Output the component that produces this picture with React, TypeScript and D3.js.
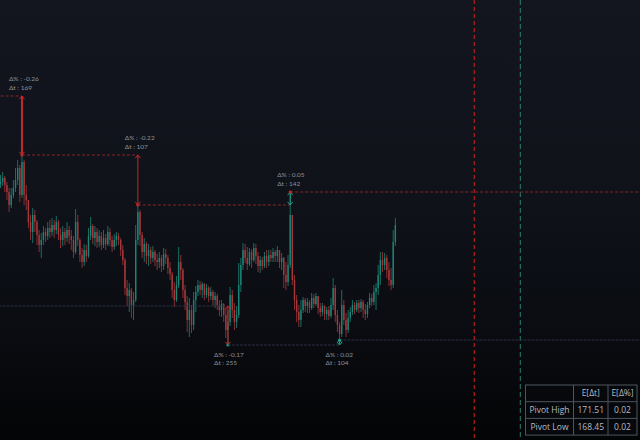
import React from "react";
import * as d3 from "d3";

// ---- Data (prices; bar time unit = 1 source bar, candles every 2 bars)
const closes = [226.68,226.72,226.65,226.58,226.45,226.55,226.62,226.70,226.82,226.55,226.88,226.55,226.50,226.28,226.18,226.35,226.28,226.15,226.05,226.10,226.18,226.14,226.22,226.18,226.25,226.20,226.28,226.15,226.10,226.18,226.12,226.20,226.14,226.10,225.98,226.28,226.10,225.95,225.88,226.00,225.94,226.14,226.24,226.12,226.18,226.08,226.14,226.05,226.12,226.06,226.18,226.10,226.03,226.10,226.14,226.10,226.00,225.90,225.62,225.54,225.60,225.45,225.50,226.10,226.38,226.15,225.98,226.06,225.94,226.00,225.92,225.98,225.90,225.88,225.92,225.84,225.96,225.92,225.82,225.76,225.60,225.50,225.65,225.88,225.80,225.60,225.48,225.30,225.40,225.25,225.50,225.58,225.65,225.60,225.66,225.55,225.62,225.54,225.58,225.50,225.54,225.45,225.40,225.46,225.35,225.20,225.28,225.55,225.40,225.28,225.35,225.65,225.85,226.00,225.92,225.86,225.98,225.90,226.02,225.94,225.84,225.90,225.84,225.94,225.88,225.95,225.92,225.98,225.94,226.00,225.88,225.92,225.75,225.68,225.85,226.35,225.70,225.50,225.38,225.30,225.40,225.50,225.44,225.48,225.42,225.52,225.46,225.54,225.42,225.38,225.44,225.36,225.40,225.34,225.45,225.62,225.35,225.25,225.16,225.45,225.30,225.20,225.32,225.38,225.45,225.40,225.47,225.42,225.48,225.40,225.36,225.45,225.52,225.48,225.58,225.62,225.75,225.90,225.85,225.92,225.80,225.70,225.65,226.08,226.25];
const highs = [226.75,226.78,226.74,226.68,226.62,226.62,226.70,226.82,226.90,226.85,226.95,226.90,226.65,226.50,226.35,226.42,226.40,226.30,226.20,226.17,226.24,226.22,226.28,226.30,226.32,226.30,226.34,226.30,226.22,226.24,226.22,226.28,226.24,226.20,226.14,226.41,226.35,226.12,226.02,226.06,226.05,226.22,226.33,226.26,226.24,226.22,226.20,226.18,226.20,226.16,226.24,226.22,226.14,226.16,226.18,226.17,226.12,226.05,225.92,225.70,225.67,225.62,225.58,226.25,226.45,226.40,226.18,226.12,226.08,226.06,226.03,226.04,226.00,225.96,225.98,225.95,226.02,226.01,225.95,225.88,225.78,225.68,225.74,226.03,225.95,225.82,225.65,225.54,225.52,225.45,225.58,225.64,225.70,225.69,225.68,225.67,225.66,225.64,225.63,225.60,225.58,225.56,225.50,225.50,225.47,225.42,225.40,225.63,225.60,225.47,225.44,225.87,225.92,226.07,226.06,226.03,226.02,226.01,226.07,226.06,225.98,225.94,225.93,225.98,226.00,226.00,226.00,226.02,226.00,226.04,226.00,225.97,225.93,225.88,225.95,226.58,226.32,225.75,225.55,225.45,225.50,225.53,225.52,225.52,225.50,225.57,225.56,225.57,225.52,225.47,225.47,225.45,225.43,225.44,225.52,225.72,225.65,225.40,225.28,225.60,225.50,225.37,225.40,225.43,225.50,225.48,225.50,225.50,225.51,225.50,225.46,225.48,225.57,225.56,225.65,225.67,225.85,225.98,225.98,225.97,225.95,225.88,225.82,226.20,226.32];
const lows = [226.62,226.64,226.58,226.50,226.38,226.42,226.52,226.58,226.65,226.48,226.52,226.45,226.40,226.22,226.10,226.07,226.18,226.05,225.98,225.92,226.05,226.08,226.10,226.12,226.14,226.12,226.16,226.10,226.02,226.04,226.05,226.08,226.06,226.00,225.92,225.96,226.04,225.88,225.82,225.84,225.88,225.92,226.10,226.06,226.04,226.02,226.03,226.00,226.02,226.00,226.04,226.04,225.98,226.00,226.04,226.05,225.94,225.85,225.55,225.44,225.38,225.32,225.30,225.48,226.05,226.04,225.92,225.88,225.86,225.84,225.86,225.88,225.84,225.80,225.82,225.78,225.80,225.86,225.76,225.70,225.52,225.43,225.48,225.62,225.70,225.52,225.40,225.18,225.13,225.17,225.20,225.38,225.54,225.55,225.52,225.50,225.52,225.48,225.50,225.44,225.42,225.40,225.34,225.33,225.28,225.12,225.05,225.24,225.32,225.20,225.22,225.32,225.58,225.80,225.87,225.80,225.84,225.82,225.88,225.86,225.78,225.77,225.80,225.82,225.82,225.84,225.88,225.88,225.88,225.88,225.82,225.80,225.62,225.60,225.64,225.82,225.65,225.40,225.28,225.23,225.23,225.37,225.38,225.37,225.37,225.40,225.42,225.44,225.36,225.33,225.34,225.30,225.30,225.30,225.32,225.40,225.28,225.18,225.10,225.13,225.25,225.13,225.17,225.28,225.35,225.36,225.38,225.37,225.38,225.32,225.30,225.32,225.42,225.44,225.45,225.40,225.55,225.65,225.78,225.80,225.72,225.64,225.60,225.62,226.04];
const firstOpen = 226.66;
const barStep = 2;

const highPivotT = [-149, 20, 128, 270];
const highPivotPrice = [227.54, 226.95, 226.45, 226.58];
const highDeltaPct = ["-0.26", "-0.22", "0.05"];
const highDeltaT = [169, 107, 142];

const lowPivotT = [-43, 212, 316];
const lowPivotPrice = [225.44, 225.05, 225.10];
const lowDeltaPct = ["-0.17", "0.02"];
const lowDeltaT = [255, 104];

const tableRows = ["Pivot High", "Pivot Low"];
const tableHeaders = ["", "E[Δt]", "E[Δ%]"];
const expDeltaT = [171.51, 168.45];
const expDeltaPct = [0.02, 0.02];

const W = 640, H = 440;
const RED = "#c62828";
const DIMRED = "#8a2527";
const TEAL = "#1f9a88";
const UP = "#1a8576";
const DOWN = "#a8373b";
const LOWLINE = "#2c3140";

const x = d3.scaleLinear().domain([0, 596]).range([0.5, 640]);
const y = d3.scaleLinear().domain([224.1, 228.5]).range([H, 0]);

function Chevron({ cx, cy, dir, color }: { cx: number; cy: number; dir: number; color: string }) {
  const pts = [
    [cx - 2.6, cy - dir * 3.2],
    [cx, cy],
    [cx + 2.6, cy - dir * 3.2],
  ];
  return <polyline points={pts.map((p) => p.join(",")).join(" ")} fill="none" stroke={color} strokeWidth={1} />;
}

function Arrow({ xp, y1, y2, color, w }: { xp: number; y1: number; y2: number; color: string; w: number }) {
  const top = Math.min(y1, y2), bot = Math.max(y1, y2);
  return (
    <g>
      <line x1={xp} x2={xp} y1={top} y2={bot} stroke={color} strokeWidth={w} />
      <Chevron cx={xp} cy={top} dir={-1} color={color} />
      <Chevron cx={xp} cy={bot} dir={1} color={color} />
    </g>
  );
}

export default function App() {
  const candles = closes.map((c, i) => {
    const o = i === 0 ? firstOpen : closes[i - 1];
    const h = Math.max(highs[i], o, c);
    const l = Math.min(lows[i], o, c);
    return { t: i * barStep, o, h, l, c };
  });

  const labelFont = { fontFamily: "Lato, 'DejaVu Sans', sans-serif", fontSize: 6.5, fill: "#8d919a" } as const;

  const highEls = highDeltaT.map((dt, k) => {
    const pT = highPivotT[k], pP = highPivotPrice[k];
    const cT = highPivotT[k + 1], cP = highPivotPrice[k + 1];
    const xp = x(cT);
    const y1 = y(pP), y2 = y(cP);
    const col = cP < pP ? RED : TEAL;
    const top = Math.min(y1, y2);
    return (
      <g key={"h" + k}>
        <line x1={x(pT)} x2={xp} y1={y1} y2={y1} stroke={DIMRED} strokeWidth={1} strokeDasharray="3 2" />
        <Arrow xp={xp} y1={y1} y2={y2} color={col} w={k === 0 ? 2 : 1} />
        <circle cx={xp} cy={y2} r={1.6} fill={RED} />
        <text x={xp - 13} y={top - 15} {...labelFont}>{`Δ% : ${highDeltaPct[k]}`}</text>
        <text x={xp - 13} y={top - 6} {...labelFont}>{`Δt : ${dt}`}</text>
      </g>
    );
  });

  const lowEls = lowDeltaT.map((dt, k) => {
    const pT = lowPivotT[k], pP = lowPivotPrice[k];
    const cT = lowPivotT[k + 1], cP = lowPivotPrice[k + 1];
    const xp = x(cT);
    const y1 = y(pP), y2 = y(cP);
    const col = cP < pP ? RED : TEAL;
    const bot = Math.max(y1, y2);
    return (
      <g key={"l" + k}>
        <line x1={x(pT)} x2={xp} y1={y1} y2={y1} stroke={LOWLINE} strokeWidth={1} strokeDasharray="3 1" />
        <Arrow xp={xp} y1={y1} y2={y2} color={col} w={1} />
        <circle cx={xp} cy={y2} r={1.6} fill={TEAL} />
        <text x={xp - 14} y={bot + 12} {...labelFont}>{`Δ% : ${lowDeltaPct[k]}`}</text>
        <text x={xp - 14} y={bot + 20} {...labelFont}>{`Δt : ${dt}`}</text>
      </g>
    );
  });

  const lastH = highPivotT.length - 1;
  const lastL = lowPivotT.length - 1;
  const projHighX = x(highPivotT[lastH] + expDeltaT[0]);
  const projLowX = x(lowPivotT[lastL] + expDeltaT[1]);

  const tx = 525.5, ty = 385, colW = [48, 34.5, 29], rowH = 16.7;
  const colX = [tx, tx + colW[0], tx + colW[0] + colW[1], tx + colW[0] + colW[1] + colW[2]];
  const tableFont = { fontFamily: "'Open Sans', Lato, sans-serif", fontSize: 8.5, fill: "#b7bbc3" } as const;

  return (
    <svg width={W} height={H} style={{ position: "absolute", left: 0, top: 0 }}>
      <defs>
        <linearGradient id="bg" x1="0" y1="0" x2="0" y2="1">
          <stop offset="0" stopColor="#13161f" />
          <stop offset="0.45" stopColor="#0f1219" />
          <stop offset="0.75" stopColor="#0a0c11" />
          <stop offset="1" stopColor="#030405" />
        </linearGradient>
      </defs>
      <rect width={W} height={H} fill="url(#bg)" />

      <line x1={projHighX} x2={projHighX} y1={0} y2={H} stroke="#d42020" strokeWidth={1} strokeDasharray="4 3" />
      <line x1={projLowX} x2={projLowX} y1={0} y2={H} stroke="#2b7d74" strokeWidth={1} strokeDasharray="5 3" />

      <line x1={x(highPivotT[lastH])} x2={W} y1={y(highPivotPrice[lastH])} y2={y(highPivotPrice[lastH])} stroke={DIMRED} strokeWidth={1} strokeDasharray="3 2" />
      <line x1={x(lowPivotT[lastL])} x2={W} y1={y(lowPivotPrice[lastL])} y2={y(lowPivotPrice[lastL])} stroke={LOWLINE} strokeWidth={1} strokeDasharray="3 1" />

      <g>
        {candles.map((d, i) => {
          const cx = x(d.t);
          const col = d.c >= d.o ? UP : DOWN;
          const yt = y(Math.max(d.o, d.c));
          const yb = y(Math.min(d.o, d.c));
          return (
            <g key={i}>
              <line x1={cx} x2={cx} y1={y(d.h)} y2={y(d.l)} stroke={col} strokeWidth={0.8} />
              <rect x={cx - 0.7} y={yt} width={1.4} height={Math.max(0.8, yb - yt)} fill={col} />
            </g>
          );
        })}
      </g>

      {highEls}
      {lowEls}

      <g>
        <rect x={tx} y={ty} width={colX[3] - tx} height={rowH * 3} fill="#06080b" stroke="#4c5660" strokeWidth={1} />
        {[1, 2].map((r) => (
          <line key={"r" + r} x1={tx} x2={colX[3]} y1={ty + r * rowH} y2={ty + r * rowH} stroke="#4c5660" strokeWidth={1} />
        ))}
        {[1, 2].map((c) => (
          <line key={"c" + c} x1={colX[c]} x2={colX[c]} y1={ty} y2={ty + 3 * rowH} stroke="#4c5660" strokeWidth={1} />
        ))}
        {tableHeaders.map((h, c) => (
          <text key={"th" + c} x={(colX[c] + colX[c + 1]) / 2} y={ty + rowH / 2 + 3} textAnchor="middle" {...tableFont}>{h}</text>
        ))}
        {tableRows.map((r, ri) => (
          <g key={"tr" + ri}>
            <text x={(colX[0] + colX[1]) / 2} y={ty + (ri + 1.5) * rowH + 3} textAnchor="middle" {...tableFont}>{r}</text>
            <text x={(colX[1] + colX[2]) / 2} y={ty + (ri + 1.5) * rowH + 3} textAnchor="middle" {...tableFont}>{expDeltaT[ri].toFixed(2)}</text>
            <text x={(colX[2] + colX[3]) / 2} y={ty + (ri + 1.5) * rowH + 3} textAnchor="middle" {...tableFont}>{expDeltaPct[ri].toFixed(2)}</text>
          </g>
        ))}
      </g>
    </svg>
  );
}
